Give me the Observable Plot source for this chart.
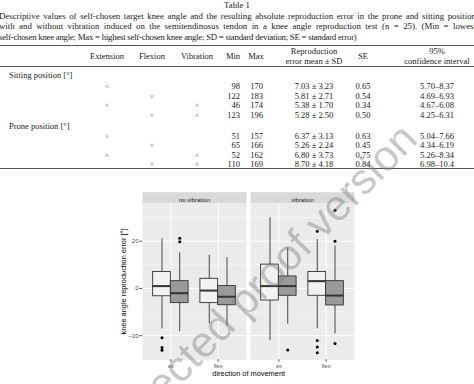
<!DOCTYPE html>
<html><head><meta charset="utf-8">
<script src="https://cdn.jsdelivr.net/npm/d3@7"></script>
<script src="https://cdn.jsdelivr.net/npm/@observablehq/plot@0.6"></script>
<style>
html,body{margin:0;padding:0;background:#fff;}
#page{position:relative;width:474px;height:384px;overflow:hidden;font-family:"Liberation Serif","Times New Roman",serif;color:#1a1a1a;}
.t{position:absolute;white-space:nowrap;line-height:10px;font-size:8.5px;}
.x{color:#888;}
.rule{position:absolute;left:0;width:474px;height:0;border-top:1px solid #555;}
#chart{position:absolute;left:0;top:188px;}
#wm{position:absolute;left:0;top:0;pointer-events:none;}
</style></head><body><div id="page"></div>
<script>
// ---------- table data ----------
const tableTitle = "Table 1";
const captionLines = [
  "Descriptive values of self-chosen target knee angle and the resulting absolute reproduction error in the prone and sitting position",
  "with and without vibration induced on the semitendinosus tendon in a knee angle reproduction test (n = 25). (Min = lowest",
  "self-chosen knee angle; Max = highest self-chosen knee angle; SD = standard deviation; SE = standard error)"
];
const headerLabels = ["Extension", "Flexion", "Vibration", "Min", "Max", ["Reproduction", "error mean ± SD"], "SE", ["95%", "confidence interval"]];
const sectionLabels = ["Sitting position [°]", "Prone position [°]"];
const rowSection = [0, 0, 0, 0, 1, 1, 1, 1];
const rowExtension = [true, false, true, false, true, false, true, false];
const rowFlexion = [false, true, false, true, false, true, false, true];
const rowVibration = [false, false, true, true, false, false, true, true];
const rowMin = [98, 122, 46, 123, 51, 65, 52, 110];
const rowMax = [170, 183, 174, 196, 157, 166, 162, 169];
const rowMean = ["7.03", "5.81", "5.38", "5.28", "6.37", "5.26", "6.80", "8.70"];
const rowSD = ["3.23", "2.71", "1.70", "2.50", "3.13", "2.24", "3.73", "4.18"];
const rowSE = ["0.65", "0.54", "0.34", "0.50", "0.63", "0.45", "0.75", "0.84"];
const rowCI = ["5.70–8.37", "4.69–6.93", "4.67–6.08", "4.25–6.31", "5.04–7.66", "4.34–6.19", "5.26–8.34", "6.98–10.4"];

// ---------- chart data ----------
const facetNames = ["no vibration", "vibration"];
const directionNames = ["ex", "flex"];
const groupNames = ["group 1", "group 2"];
const boxVibration = ["no vibration", "no vibration", "no vibration", "no vibration", "vibration", "vibration", "vibration", "vibration"];
const boxDirection = ["ex", "ex", "flex", "flex", "ex", "ex", "flex", "flex"];
const boxGroup = ["group 1", "group 2", "group 1", "group 2", "group 1", "group 2", "group 1", "group 2"];
const whiskerLow = [-17.1, -18.3, -15.1, -15.9, -22.1, -15.1, -17.1, -19.2];
const quartile1 = [-3.3, -6.2, -6.2, -7.1, -5.1, -3.1, -3.1, -7.2];
const medians = [1.0, -2.0, -0.9, -3.5, 1.0, 1.0, 3.1, -3.0];
const quartile3 = [7.0, 3.1, 4.1, 1.0, 10.1, 5.1, 7.0, 3.1];
const whiskerHigh = [21.0, 15.1, 14.1, 13.1, 30.0, 17.2, 20.7, 18.0];
const outlierVibration = ["no vibration", "no vibration", "no vibration", "no vibration", "no vibration", "vibration", "vibration", "vibration", "vibration", "vibration", "vibration", "vibration", "vibration"];
const outlierDirection = ["ex", "ex", "ex", "ex", "ex", "ex", "flex", "flex", "flex", "flex", "flex", "flex", "flex"];
const outlierGroup = ["group 1", "group 1", "group 1", "group 2", "group 2", "group 2", "group 1", "group 1", "group 1", "group 1", "group 2", "group 2", "group 2"];
const outlierValue = [-20.9, -25.0, -26.2, 21.3, 19.8, -26.1, 24.2, -22.0, -24.8, -27.2, 33.1, 20.0, -23.3];
const yTicks = [-20, 0, 20];
const yMinor = [-10, 10, 30];
const yTitle = "knee angle reproduction error [°]";
const xTitle = "direction of movement";
const watermark = "Uncorrected proof version";

// ---------- table layout ----------
const page = document.getElementById("page");
function put(text, x, y, align, cls) {
  const el = document.createElement("div");
  el.className = "t" + (cls ? " " + cls : "");
  el.textContent = text;
  el.style.top = (y - 5) + "px";
  if (align === "left") el.style.left = x + "px";
  else if (align === "right") el.style.right = (474 - x) + "px";
  else { el.style.left = x + "px"; el.style.transform = "translateX(-50%)"; }
  page.appendChild(el);
  return el;
}
function rule(y) { const r = document.createElement("div"); r.className = "rule"; r.style.top = y + "px"; page.appendChild(r); }

const titleEl = put(tableTitle, 237, 4.5, "center");
titleEl.style.fontSize = "8.8px";
const capY = [15.5, 26.2, 36.8];
const capEls = captionLines.map((s, i) => put(s, -1, capY[i], "left"));
capEls.forEach(e => e.style.fontSize = "8.8px");
[0, 1].forEach(i => {
  const e = capEls[i];
  const w = e.getBoundingClientRect().width;
  const spaces = (captionLines[i].match(/ /g) || []).length;
  e.style.wordSpacing = ((477 - w) / spaces) + "px";
});
{
  const e = capEls[2];
  const w = e.getBoundingClientRect().width;
  if (w > 345) e.style.letterSpacing = Math.max(-0.25, (345 - w) / captionLines[2].length) + "px";
}

rule(45);
const hdrX = [107, 152, 197, 233, 256, 314, 363, 437];
headerLabels.forEach((h, i) => {
  if (Array.isArray(h)) { put(h[0], hdrX[i], 51, "center"); put(h[1], hdrX[i], 60.5, "center"); }
  else put(h, hdrX[i], 55.7, "center");
});
rule(66);
const sectionY = [74.5, 125.5];
sectionLabels.forEach((s, i) => put(s, 9, sectionY[i], "left"));
const rowY = [85.5, 95.5, 105.2, 115, 135.5, 145, 154.5, 163.5];
rowMin.forEach((_, i) => {
  const y = rowY[i];
  if (rowExtension[i]) put("×", 107, y, "center", "x");
  if (rowFlexion[i]) put("×", 152, y, "center", "x");
  if (rowVibration[i]) put("×", 197, y, "center", "x");
  put(String(rowMin[i]), 240, y, "right");
  put(String(rowMax[i]), 263, y, "right");
  put(rowMean[i] + " ± " + rowSD[i], 314, y, "center");
  put(rowSE[i], 363, y, "center");
  put(rowCI[i], 437, y, "center");
});
rule(168);

// ---------- chart ----------
const boxes = boxVibration.map((v, i) => ({
  vibration: v, direction: boxDirection[i], group: boxGroup[i],
  lo: whiskerLow[i], q1: quartile1[i], med: medians[i], q3: quartile3[i], hi: whiskerHigh[i]
}));
const outliers = outlierValue.map((v, i) => ({
  vibration: outlierVibration[i], direction: outlierDirection[i], group: outlierGroup[i], value: v
}));
const halfW = 0.1875;
const xPos = d => directionNames.indexOf(d.direction) + 1 + (groupNames.indexOf(d.group) === 0 ? -halfW : halfW);
const allY = [...whiskerLow, ...whiskerHigh, ...outlierValue];
const yLo = d3.min(allY), yHi = d3.max(allY), ySpan = yHi - yLo;

const W = 474, H = 196, mT = 14.7, mB = 24.7, mL = 141.7, mR = 119.7;
const panelH = H - mT - mB;
const line = "#333333";

const chart = Plot.plot({
  width: W, height: H,
  marginTop: mT, marginBottom: mB, marginLeft: mL, marginRight: mR,
  style: { fontFamily: "'Liberation Sans', Arial, sans-serif", background: "transparent", overflow: "visible" },
  fx: { domain: facetNames, paddingInner: 0.04, paddingOuter: 0, axis: null },
  x: { type: "linear", domain: [0.4, 2.6] },
  y: { domain: [yLo - 0.05 * ySpan, yHi + 0.05 * ySpan] },
  color: { domain: groupNames, range: ["#f2f2f2", "#9a9a9a"] },
  marks: [
    Plot.frame({ fill: "#ebebeb", stroke: null }),
    Plot.frame({ fill: "#d9d9d9", stroke: null, insetTop: -11, insetBottom: panelH }),
    Plot.gridY(yMinor, { stroke: "#fff", strokeOpacity: 1, strokeWidth: 0.5 }),
    Plot.gridY(yTicks, { stroke: "#fff", strokeOpacity: 1, strokeWidth: 1 }),
    Plot.gridX([1, 2], { stroke: "#fff", strokeOpacity: 1, strokeWidth: 1 }),
    Plot.ruleX(boxes, { fx: "vibration", x: xPos, y1: "lo", y2: "hi", stroke: line, strokeWidth: 0.9 }),
    Plot.rect(boxes, { fx: "vibration", x1: d => xPos(d) - halfW, x2: d => xPos(d) + halfW, y1: "q1", y2: "q3", fill: "group", stroke: line, strokeWidth: 0.9 }),
    Plot.ruleY(boxes, { fx: "vibration", x1: d => xPos(d) - halfW, x2: d => xPos(d) + halfW, y: "med", stroke: line, strokeWidth: 2 }),
    Plot.dot(outliers, { fx: "vibration", x: xPos, y: "value", r: 1.5, fill: "#000", stroke: null }),
    Plot.text(facetNames, { fx: d => d, text: d => d, frameAnchor: "top", dy: -5.5, fontSize: 6, fill: "#1a1a1a" }),
    Plot.axisY({ ticks: yTicks, tickSize: 2.5, tickPadding: 1.5, fontSize: 6, color: "#4d4d4d", label: null }),
    Plot.axisX({ ticks: [1, 2], tickFormat: d => directionNames[d - 1], tickSize: 2.5, tickPadding: 1.5, fontSize: 5.6, color: "#4d4d4d", label: null }),
    Plot.text([{ fx: facetNames[0], t: yTitle }], { fx: "fx", text: "t", frameAnchor: "left", textAnchor: "middle", lineAnchor: "middle", rotate: -90, dx: -19, fontSize: 7.4, fill: "#000" }),
    Plot.text([{ fx: facetNames[0], t: xTitle }], { fx: "fx", text: "t", frameAnchor: "bottom-right", textAnchor: "middle", lineAnchor: "middle", dx: 2.2, dy: 14, fontSize: 7.4, fill: "#000" })
  ]
});
chart.id = "chart";
page.appendChild(chart);

// watermark overlay
const ns = "http://www.w3.org/2000/svg";
const wm = document.createElementNS(ns, "svg");
wm.setAttribute("id", "wm"); wm.setAttribute("width", 474); wm.setAttribute("height", 384);
const wt = document.createElementNS(ns, "text");
wt.setAttribute("transform", "translate(73.4,494.7) rotate(-45.6)");
wt.setAttribute("font-family", "'Liberation Sans', Arial, sans-serif");
wt.setAttribute("font-size", "43");
wt.setAttribute("fill", "rgba(120,120,120,0.42)");
wt.textContent = watermark;
wm.appendChild(wt);
page.appendChild(wm);
</script>
</body></html>
